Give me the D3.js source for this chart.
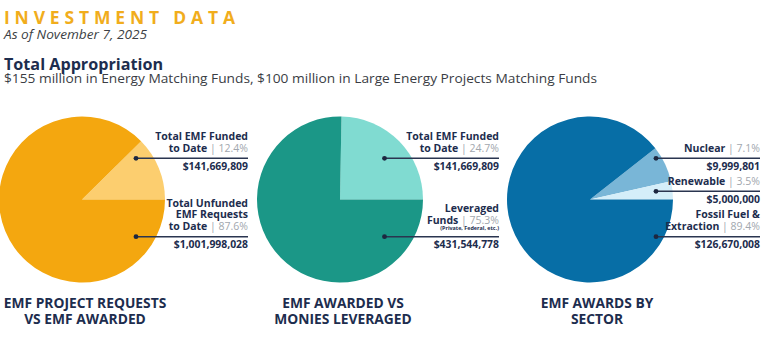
<!DOCTYPE html>
<html>
<head>
<meta charset="utf-8">
<script src="https://cdn.jsdelivr.net/npm/d3@7"></script>
<style>
  html, body { margin: 0; padding: 0; background: #ffffff; }
  svg { display: block; font-family: "Open Sans", "Noto Sans", sans-serif; }
</style>
</head>
<body>
<svg id="chart" width="768" height="339"></svg>
<script>
// ---------- DATA ----------
const headerTitle = "INVESTMENT DATA";
const headerDate = "As of November 7, 2025";
const sectionTitle = "Total Appropriation";
const sectionSubtitle = "$155 million in Energy Matching Funds, $100 million in Large Energy Projects Matching Funds";

// Chart 1: EMF project requests vs EMF awarded
const requestCategories = ["Total EMF Funded to Date", "Total Unfunded EMF Requests to Date"];
const requestLabelLines = [["Total EMF Funded", "to Date"], ["Total Unfunded", "EMF Requests", "to Date"]];
const requestValues = [141669809, 1001998028];
const requestPercents = ["12.4%", "87.6%"];
const requestTitle = ["EMF PROJECT REQUESTS", "VS EMF AWARDED"];

// Chart 2: EMF awarded vs monies leveraged
const leverageCategories = ["Total EMF Funded to Date", "Leveraged Funds"];
const leverageLabelLines = [["Total EMF Funded", "to Date"], ["Leveraged", "Funds"]];
const leverageValues = [141669809, 431544778];
const leveragePercents = ["24.7%", "75.3%"];
const leverageNotes = ["", "(Private, Federal, etc.)"];
const leverageTitle = ["EMF AWARDED VS", "MONIES LEVERAGED"];

// Chart 3: EMF awards by sector
const sectorCategories = ["Nuclear", "Renewable", "Fossil Fuel & Extraction"];
const sectorLabelLines = [["Nuclear"], ["Renewable"], ["Fossil Fuel &", "Extraction"]];
const sectorValues = [9999801, 5000000, 126670008];
const sectorPercents = ["7.1%", "3.5%", "89.4%"];
const sectorTitle = ["EMF AWARDS BY", "SECTOR"];

// ---------- STYLE / LAYOUT ----------
const NAVY = "#1d2d4e";
const GREY = "#a2a7ae";
const ORANGE_TITLE = "#f1ad1c";

const svg = d3.select("#chart");

// Header
svg.append("text").attr("x", 4).attr("y", 24)
  .attr("font-size", 17.5).attr("font-weight", 700).attr("fill", ORANGE_TITLE)
  .attr("textLength", 231).attr("lengthAdjust", "spacing")
  .text(headerTitle);
svg.append("text").attr("x", 4).attr("y", 39)
  .attr("font-size", 12.5).attr("font-style", "italic").attr("fill", "#3c3f45")
  .attr("textLength", 143).attr("lengthAdjust", "spacingAndGlyphs")
  .text(headerDate);
svg.append("text").attr("x", 4).attr("y", 70)
  .attr("font-size", 16).attr("font-weight", 700).attr("fill", NAVY)
  .attr("textLength", 159).attr("lengthAdjust", "spacingAndGlyphs")
  .text(sectionTitle);
svg.append("text").attr("x", 4).attr("y", 82.5)
  .attr("font-size", 12.5).attr("fill", "#3a3d44")
  .attr("textLength", 593).attr("lengthAdjust", "spacingAndGlyphs")
  .text(sectionSubtitle);

const fmt = d3.format("$,");

function drawPie(cfg) {
  const total = d3.sum(cfg.values);
  // the small slices end at 3 o'clock, the main slice wraps around
  const smallFrac = d3.sum(cfg.values.slice(0, cfg.values.length - 1)) / total;
  const start = Math.PI / 2 - smallFrac * 2 * Math.PI;
  const pie = d3.pie().sort(null).value(d => d)
    .startAngle(start).endAngle(start + 2 * Math.PI);
  const arc = d3.arc().innerRadius(0).outerRadius(cfg.r);
  const g = svg.append("g").attr("transform", `translate(${cfg.cx},${cfg.cy})`);
  const color = d3.scaleOrdinal().domain(cfg.categories).range(cfg.colors);
  g.selectAll("path").data(pie(cfg.values)).join("path")
    .attr("d", arc)
    .attr("fill", (d, i) => color(cfg.categories[i]));

  // annotations
  cfg.values.forEach((v, i) => {
    const ly = cfg.lineYs[i];
    const ag = svg.append("g");
    ag.append("line").attr("x1", cfg.dotX).attr("x2", cfg.labelRight)
      .attr("y1", ly).attr("y2", ly)
      .attr("stroke", "#2a3550").attr("stroke-width", 1.4);
    ag.append("circle").attr("cx", cfg.dotX).attr("cy", ly).attr("r", 2.4).attr("fill", "#1d2740");
    const lines = cfg.labelLines[i];
    const note = cfg.notes ? cfg.notes[i] : "";
    lines.forEach((t, j) => {
      const k = lines.length - 1 - j;
      const y = ly - 6.8 - k * 11.6 - (note ? 6.3 : 0);
      const tx = ag.append("text").attr("x", cfg.labelRight).attr("y", y)
        .attr("text-anchor", "end").attr("font-size", 10.5).attr("font-weight", 700)
        .attr("fill", NAVY);
      tx.append("tspan").text(t);
      if (j === lines.length - 1) {
        tx.append("tspan").attr("font-weight", 400).attr("fill", GREY).text(" | " + cfg.percents[i]);
      }
    });
    if (note) {
      ag.append("text").attr("x", cfg.labelRight).attr("y", ly - 6.3)
        .attr("text-anchor", "end").attr("font-size", 5.4).attr("font-weight", 700)
        .attr("fill", NAVY).text(note);
    }
    ag.append("text").attr("x", cfg.labelRight).attr("y", ly + 11.4)
      .attr("text-anchor", "end").attr("font-size", 10.4).attr("font-weight", 700)
      .attr("fill", NAVY).text(fmt(v));
  });

  // bottom title
  cfg.title.forEach((t, j) => {
    svg.append("text").attr("x", cfg.titleX).attr("y", 308 + j * 15.5)
      .attr("text-anchor", "middle").attr("font-size", 13.8).attr("font-weight", 700)
      .attr("fill", NAVY).text(t);
  });
}

drawPie({
  cx: 82, cy: 199.5, r: 83,
  categories: requestCategories, values: requestValues, percents: requestPercents,
  labelLines: requestLabelLines,
  colors: ["#fcce6f", "#f4a70f"],
  dotX: 136, labelRight: 248, lineYs: [158.3, 236.7],
  title: requestTitle, titleX: 85
});

drawPie({
  cx: 340, cy: 199.5, r: 83,
  categories: leverageCategories, values: leverageValues, percents: leveragePercents,
  labelLines: leverageLabelLines, notes: leverageNotes,
  colors: ["#80dbd1", "#1b9787"],
  dotX: 384.5, labelRight: 499, lineYs: [158.3, 236.7],
  title: leverageTitle, titleX: 343
});

drawPie({
  cx: 590, cy: 199.5, r: 83,
  categories: sectorCategories, values: sectorValues, percents: sectorPercents,
  labelLines: sectorLabelLines,
  colors: ["#79b6d7", "#d4eef9", "#076ea6"],
  dotX: 656, labelRight: 760, lineYs: [158.3, 191.3, 236.7],
  title: sectorTitle, titleX: 597
});
</script>
</body>
</html>
